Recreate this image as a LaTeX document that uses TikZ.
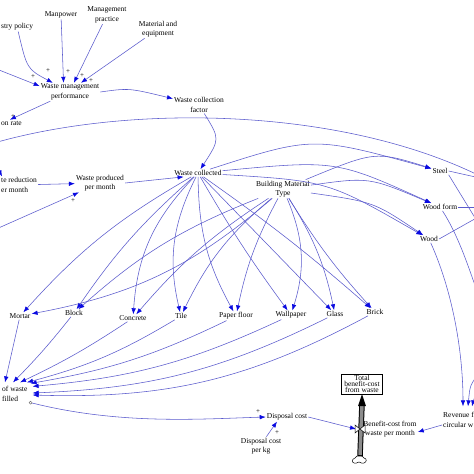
\documentclass[tikz,border=0pt]{standalone}
\usepackage{fontspec}
\setmainfont{Liberation Serif}
\usetikzlibrary{arrows.meta}
\definecolor{linkc}{RGB}{90,90,205}
\definecolor{tipc}{RGB}{10,10,225}
\begin{document}
\begin{tikzpicture}[x=1pt,y=-1pt,
  lbl/.style={font=\fontsize{7.5}{9.5}\selectfont, align=center, inner sep=1pt},
  lk/.style={draw=linkc, line width=0.55pt, -{Latex[length=6pt,width=4.5pt,color=tipc]}},
  ln/.style={draw=linkc, line width=0.55pt},
  pl/.style={font=\fontsize{7}{7}\selectfont, inner sep=0pt}]
\useasboundingbox[fill=white] (0,0) rectangle (474,474);

% ---------- nodes ----------
\node[lbl, anchor=west] (ip) at (0,27) {stry policy};
\node[lbl] (mp) at (61,15) {Manpower};
\node[lbl] (mgp) at (107,15) {Management\\practice};
\node[lbl] (mae) at (158,29) {Material and\\equipment};
\node[lbl] (wmp) at (70,92) {Waste management\\performance};
\node[lbl] (wcf) at (199,105) {Waste collection\\factor};
\node[lbl, anchor=west] (onr) at (0,123) {on rate};
\node[lbl, anchor=west, align=left] (red) at (0,185) {te reduction\\er month};
\node[lbl] (wpm) at (100,183) {Waste produced\\per month};
\node[lbl] (wc) at (198,173) {Waste collected};
\node[lbl] (bmt) at (283,189) {Building Material\\Type};
\node[lbl] (steel) at (440,171) {Steel};
\node[lbl] (wform) at (440,207) {Wood form};
\node[lbl] (wood) at (429,239) {Wood};

\node[lbl] (mortar) at (20,316) {Mortar};
\node[lbl] (block) at (74,313) {Block};
\node[lbl] (concrete) at (133,318) {Concrete};
\node[lbl] (tile) at (181,316) {Tile};
\node[lbl] (paper) at (236,316) {Paper floor};
\node[lbl] (wallp) at (291,315) {Wallpaper};
\node[lbl] (glass) at (335,314) {Glass};
\node[lbl] (brick) at (375,312) {Brick};

\node[lbl, anchor=west, align=left, inner sep=2pt] (owl) at (0,394) {of waste\\filled};
\node[lbl] (dispc) at (287,417) {Disposal cost};
\node[lbl] (dpk) at (261,446) {Disposal cost\\per kg};
\node[lbl] (bcm) at (390,429) {Benefit-cost from\\waste per month};
\node[lbl, anchor=west, align=left] (rev) at (442,420) {Revenue f\\circular w};
\node[draw, font=\fontsize{7.5}{6}\selectfont, align=center, inner sep=0pt,
      minimum width=41pt, minimum height=20pt] (tot) at (362,384) {Total\\benefit-cost\\from waste};
\coordinate (valve) at (360,429);
\coordinate (cloud) at (360,456);

% free ends outside the picture
\coordinate (l1) at (-6,68);
\coordinate (l2) at (-6,230);
\coordinate (l3) at (-6,160);
\coordinate (a0) at (-6,143);
\coordinate (a1) at (480,176);
\coordinate (r1) at (480,178);
\coordinate (r2) at (480,226);
\coordinate (r3) at (480,207);
\coordinate (r4) at (480,216);
\coordinate (r5) at (480,300);
\coordinate (r6) at (480,372);
\coordinate (r7) at (480,390);

% ---------- plus signs ----------
\foreach \p in {(33,77),(48,71),(68,72),(82,76),(91,81),(13,117),(73,201),(258,412),(277,433)}
  \node[pl] at \p {+};

% ---------- top links ----------
\draw[lk] (ip) .. controls (27,69) .. (wmp);
\draw[lk] (mp) -- (wmp.125);
\draw[lk] (mgp) -- (wmp.67);
\draw[lk] (mae) -- (wmp.40);
\draw[lk] (l1) -- (wmp.169);
\draw[lk] (wmp.205) -- (onr.115);
\draw[lk] (wmp.east) .. controls (129,88) .. (wcf);
\draw[lk] (wcf) .. controls (220,139) .. (wc);
\draw[lk] (l3) -- ([xshift=2pt]red.north west);
\draw[lk] (red) -- (wpm);
\draw[lk] (l2) -- (wpm);
\draw[lk] (wpm.east) -- (wc.195);

% big arc
\draw[ln] (a0) .. controls (130,104) and (340,107) .. (a1);

% to steel / wood form / wood
\draw[lk] (wc) .. controls (313,136) .. (steel);
\draw[lk] (wc) .. controls (336,160) .. (wform);
\draw[lk] (wc) .. controls (328,181) .. (wood);
\draw[lk] (bmt) .. controls (375,151) .. (steel);
\draw[lk] (bmt) .. controls (369,177) .. (wform);
\draw[lk] (bmt) .. controls (374,202) .. (wood);

% right side links leaving picture
\draw[ln] (steel.east) -- (r1);
\draw[ln] (steel.south east) -- (r2);
\draw[ln] (wform.east) -- (r3);
\draw[ln] (wood.east) -- (r4);
\draw[ln] (wform) .. controls (458,235) and (468,265) .. (r5);
\draw[lk] (wood) .. controls (452,290) and (463,350) .. ([xshift=21pt,yshift=5pt]rev.north west);
\draw[lk] (r6) .. controls (470,385) .. ([xshift=26pt,yshift=5pt]rev.north west);
\draw[lk] (r7) .. controls (474,398) .. ([xshift=30pt,yshift=5pt]rev.north west);

% waste collected -> materials
\draw[lk] (wc) to[bend right=9] (mortar);
\draw[lk] (wc) to[bend right=7] (block);
\draw[lk] (wc) to[bend right=20] (concrete);
\draw[lk] (wc) to[bend right=20] (tile);
\draw[lk] (wc) to[bend right=14] (paper);
\draw[lk] (wc) to[bend right=3] (wallp);
\draw[lk] (wc) to (glass);
\draw[lk] (wc) to[bend left=3] (brick);

% building material type -> materials
\draw[lk] (bmt) to[bend left=15] (mortar);
\draw[lk] (bmt) to[bend right=10] (block);
\draw[lk] (bmt) to[bend right=8] (concrete);
\draw[lk] (bmt) to[bend right=12] (tile);
\draw[lk] (bmt) to[bend right=8] (paper);
\draw[lk] (bmt) to[bend left=20] (wallp);
\draw[lk] (bmt) to[bend left=10] (glass);
\draw[lk] (bmt) to[bend right=5] (brick);

% materials -> landfilled
\draw[lk] (mortar) -- ([xshift=5pt,yshift=2pt]owl.north west);
\draw[lk] (block) to[bend left=3] ([xshift=13pt,yshift=2pt]owl.north west);
\draw[lk] (concrete) to[bend left=4] ([xshift=20pt,yshift=2pt]owl.north west);
\draw[lk] (tile) to[bend left=8] ([xshift=27pt,yshift=2pt]owl.north west);
\draw[lk] (paper) to[bend left=8] ([xshift=1pt,yshift=1pt]owl.north east);
\draw[lk] (wallp) to[bend left=10] ([xshift=3pt,yshift=-2pt]owl.north east);
\draw[lk] (glass) to[bend left=12] ([xshift=3pt,yshift=1pt]owl.east);
\draw[lk] (brick) to[bend left=15] ([xshift=3pt,yshift=-1pt]owl.east);

% landfilled -> disposal cost
\node[circle, draw=black!60, inner sep=0pt, minimum size=3pt] (oc) at ([xshift=1pt,yshift=1pt]owl.south east) {};
\draw[lk] (oc) .. controls (120,425) and (200,419) .. (dispc.west);
\draw[lk] (dpk.60) -- ([xshift=-10pt]dispc.south);
\draw[lk] (dispc.east) -- ([xshift=-4pt]valve);
\draw[lk] ([yshift=-5pt]rev.west) -- ([yshift=-3pt]bcm.east);

% ---------- flow ----------
\draw[line width=5.5pt, black] (cloud) -- ([yshift=-10pt]tot.south);
\draw[line width=3.5pt, black!45] ([yshift=1pt]cloud) -- ([yshift=-10pt]tot.south);
\fill[black] ([xshift=-4pt,yshift=-12pt]tot.south) -- ([xshift=4pt,yshift=-12pt]tot.south) -- (tot.south) -- cycle;
\filldraw[fill=white, draw=black, line width=0.5pt]
  ([xshift=-5pt,yshift=4pt]valve) -- ([xshift=5pt,yshift=-4pt]valve) --
  ([xshift=5pt,yshift=4pt]valve) -- ([xshift=-5pt,yshift=-4pt]valve) -- cycle;
\filldraw[fill=white, draw=black, line width=0.5pt]
  (354,463) to[out=160,in=200,looseness=1.6] (355,458) to[out=80,in=180] (360,456)
  to[out=0,in=110] (364,458) to[out=-10,in=20,looseness=1.6] (364,463)
  to[out=200,in=340] (359,462) to[out=200,in=340] (354,463);
\end{tikzpicture}
\end{document}
